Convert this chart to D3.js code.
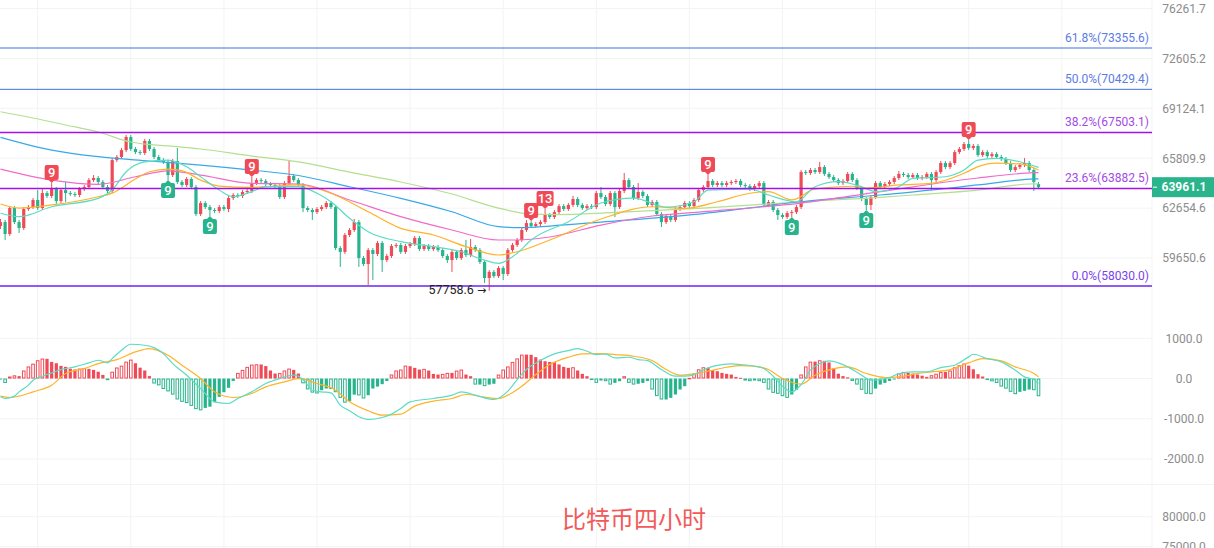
<!DOCTYPE html>
<html>
<head>
<meta charset="utf-8">
<title>比特币四小时</title>
<script src="https://d3js.org/d3.v7.min.js"></script>
<style>
  html, body { margin: 0; padding: 0; background: #fff; }
  svg { display: block; font-family: Roboto, "Noto Sans", sans-serif; }
</style>
</head>
<body>
<svg width="1214" height="548"></svg>
<script>
// 4h candles
const candleOpen = [61560,61800,61080,62660,61800,61440,62600,62720,63160,62660,
  63590,63410,63850,63090,63780,63590,63530,63470,63850,63970,
  64410,64540,64290,63970,63720,65690,65890,66340,67200,66410,
  66210,66150,66940,66410,65890,65690,65570,64730,65630,64290,
  64100,64480,63970,62290,62970,62720,62540,62480,62720,62600,
  63280,63470,63410,63660,63720,64220,64410,64350,64160,64100,
  64030,63340,64220,64670,64410,64100,62660,62540,62410,62600,
  62720,62970,62720,60240,60010,61020,61320,61800,59650,59300,
  60120,59890,60540,59530,59770,60360,60420,60010,60360,60480,
  60840,60180,60360,60180,60300,60120,59770,59530,60010,59650,
  60120,59830,60300,60120,59420,58490,58840,58600,59070,58720,
  60120,60420,60720,61320,61740,61560,61680,61800,62230,62110,
  62410,62780,62600,62850,63220,62850,62660,62780,62720,63590,
  63340,62910,63590,62720,63720,64410,63970,63280,63660,63410,
  62850,63030,62290,61800,62170,61930,62600,62720,62970,62780,
  63160,63780,63970,64350,64100,64220,64100,64220,64290,64350,
  64100,64030,63850,64030,64220,62850,63030,62540,62230,62110,
  62350,62410,62720,64920,64860,65050,64920,65240,64800,64600,
  64410,64220,64350,64800,64410,63910,63220,62850,63340,64220,
  63970,64160,64290,64540,64800,64730,64600,64730,64540,64600,
  64800,64410,64920,65500,65240,65500,66210,66410,66740,66480,
  66610,66020,66210,65950,66080,65890,65760,65500,65050,65240,
  65370,65500,65050,64160];
const candleClose = [61800,61080,62660,61800,61440,62600,62720,63160,62660,63590,
  63410,63850,63090,63780,63590,63530,63470,63850,63970,64410,
  64540,64290,63970,63720,65690,65890,66340,67200,66410,66210,
  66150,66940,66410,65890,65690,65570,64730,65630,64290,64100,
  64480,63970,62290,62970,62720,62540,62480,62720,62600,63280,
  63470,63410,63660,63720,64220,64410,64350,64160,64100,64030,
  63340,64220,64670,64410,64100,62660,62540,62410,62600,62720,
  62970,62720,60240,60010,61020,61320,61800,59650,59300,60120,
  59890,60540,59530,59770,60360,60420,60010,60360,60480,60840,
  60180,60360,60180,60300,60120,59770,59530,60010,59650,60120,
  59830,60300,60120,59420,58490,58840,58600,59070,58720,60120,
  60420,60720,61320,61740,61560,61680,61800,62230,62110,62410,
  62780,62600,62850,63220,62850,62660,62780,62720,63590,63340,
  62910,63590,62720,63720,64410,63970,63280,63660,63410,62850,
  63030,62290,61800,62170,61930,62600,62720,62970,62780,63160,
  63780,63970,64350,64100,64220,64100,64220,64290,64350,64100,
  64030,63850,64030,64220,62850,63030,62540,62230,62110,62350,
  62410,62720,64920,64860,65050,64920,65240,64800,64600,64410,
  64220,64350,64800,64410,63910,63220,62850,63340,64220,63970,
  64160,64290,64540,64800,64730,64600,64730,64540,64600,64800,
  64410,64920,65500,65240,65500,66210,66410,66740,66480,66610,
  66020,66210,65950,66080,65890,65760,65500,65050,65240,65370,
  65500,65050,64290,63961.1];
const candleHigh = [61990,61930,62780,62780,61930,62720,62850,63280,63780,63850,
  63720,64220,63970,63910,64290,63720,63660,63970,64100,64540,
  64730,64670,64410,64100,65820,66020,66480,67330,67330,66540,
  66340,67070,67070,66540,66020,65820,65690,65760,66480,64410,
  64600,64600,64100,63090,63090,62850,62660,62850,62850,63410,
  63590,63590,63780,63850,64600,64540,64540,64480,64290,64220,
  64160,64350,65630,64800,64540,64220,62780,62660,62720,62850,
  63090,63090,62850,60360,61140,61440,61990,61930,59770,60240,
  60240,60660,60660,59890,60480,60540,60540,60480,60600,60960,
  60960,60480,60480,60420,60420,60240,59890,60120,60120,60240,
  60720,60780,60420,60240,59530,58950,58950,59180,59180,60240,
  60540,60840,61440,61930,61860,61800,61930,62600,62350,62540,
  62910,62910,62970,63410,63340,62970,62910,62910,63720,63970,
  63470,63720,63720,63850,64860,64540,64100,64220,63780,63530,
  63160,63160,62410,62290,62290,62720,62850,63090,63090,63280,
  63910,64100,64730,64480,64350,64350,64350,64410,64480,64480,
  64220,64160,64160,64350,64350,63160,63160,62660,62350,62480,
  62540,62850,65050,65050,65180,65180,65570,65370,64920,64730,
  64540,64480,64920,64920,64540,64030,63340,63470,64350,64350,
  64290,64410,64670,64990,64920,64860,64860,64860,64730,64920,
  64920,65050,65630,65630,65630,66340,66540,66870,67000,66740,
  66740,66340,66340,66210,66210,66020,65890,65630,65370,65500,
  65820,65630,65180,64290];
const candleLow = [61380,60720,60960,61680,61140,61320,62480,62600,62540,62540,
  63280,63280,62910,62970,63030,63410,63340,63340,63720,63850,
  64290,64160,63850,63590,63590,65570,65760,66210,66280,66080,
  66020,66020,66280,65760,65570,65440,64410,64600,64160,63970,
  63970,63850,62170,62170,62600,62170,62350,62350,62480,62410,
  63160,63280,63280,63530,63590,64100,64220,64030,63970,63910,
  63220,63220,64100,64290,63970,62410,62410,61930,62290,62480,
  62600,62600,60120,59130,59890,60900,61200,59130,59180,58090,
  58370,59770,58840,59420,59650,60240,59890,59890,60240,60360,
  60060,60060,60060,60060,60010,59650,59360,58840,59530,59530,
  59710,59710,60010,59300,58200,57758.6,58490,58490,58370,58600,
  60010,60300,60600,61200,61440,61440,61560,61680,61990,61990,
  62290,62480,62480,62720,62720,62540,62540,62600,62600,63220,
  62780,62780,62110,62600,63590,63850,63160,63160,63280,62720,
  62720,62170,61500,61680,61800,61800,62480,62600,62660,62660,
  63030,63660,63850,63970,63970,63970,63970,64100,64160,63970,
  63910,63720,63720,63910,62720,62720,62410,61930,61990,61990,
  62110,62290,62600,64730,64730,64800,64800,64670,64480,64290,
  64100,64100,64220,64290,63780,63090,62540,62540,63220,63850,
  63850,64030,64160,64410,64600,64480,64480,64410,64410,64480,
  63780,64290,64800,65110,65110,65370,66080,66280,66340,66340,
  65890,65890,65820,65820,65760,65630,65370,64920,64920,65110,
  65240,64920,63720,63850];

// moving averages, sampled as [candle index, price]
const maLong = [[0,68890],[7,68470],[14,68000],[21,67530],[28,66870],[36,66610],[43,66410],[54,65950],[64,65570],[75,64920],[86,64290],[97,63530],[107,62660],[114,62290],[120,62260],[129,62350],[150,62640],[172,63050],[189,63320],[196,63470],[210,63780],[221,64160],[223,64170]];
const maBlue = [[0,67180],[11,66340],[21,65910],[32,65630],[43,65370],[54,65050],[64,64700],[75,63990],[86,63260],[97,62430],[107,61520],[112,61460],[118,61560],[129,61800],[150,62290],[172,63050],[189,63470],[210,64100],[222,64480],[223,64490]];
const maPink = [[0,65110],[11,64410],[21,64140],[29,64620],[36,65000],[43,64730],[54,64200],[64,64160],[75,63160],[86,62130],[97,61320],[107,60720],[111,60720],[118,60900],[129,61620],[140,62170],[150,62410],[172,62970],[189,63680],[210,64540],[222,64880],[223,64890]];
const maOrange = [[0,62910],[4,62660],[11,62850],[21,63360],[24,63590],[29,64480],[32,64940],[36,65110],[39,65010],[43,64410],[47,64030],[54,63950],[64,64100],[71,63580],[79,62430],[86,61420],[93,61020],[100,60320],[107,59830],[111,60020],[118,60720],[129,61990],[140,62740],[147,62640],[154,63050],[161,63580],[165,63680],[170,63160],[175,63850],[183,64020],[186,63910],[193,64100],[200,64200],[207,64840],[210,65270],[214,65490],[219,65440],[223,65050]];
const maTeal = [[0,62340],[4,62130],[11,62740],[21,63260],[24,63780],[27,64940],[31,65580],[36,65690],[40,65260],[43,64620],[47,63780],[50,63360],[54,63680],[57,63990],[64,63990],[68,63580],[71,63050],[75,62030],[79,61220],[86,60620],[93,60320],[99,60020],[104,59530],[107,59340],[111,59930],[114,60720],[122,61820],[129,62970],[136,63280],[143,62720],[149,63050],[152,63780],[161,63830],[165,63470],[171,63050],[175,63990],[180,64310],[185,63990],[188,63680],[193,63990],[196,64520],[203,64620],[207,65050],[210,65690],[214,65800],[219,65580],[223,65220]];

// MACD
const macdHist = [-25,-110,50,80,60,200,300,370,455,496,
  490,413,380,315,290,245,225,248,262,240,
  215,170,90,-41,170,275,320,420,470,380,
  270,200,60,-124,-170,-260,-320,-400,-520,-579,
  -610,-680,-760,-790,-730,-700,-590,-455,-340,-230,
  -60,140,215,290,347,355,350,310,200,124,
  135,200,248,215,124,-120,-270,-350,-372,-290,
  -248,-260,-340,-480,-600,-560,-400,-420,-496,-414,
  -248,-200,-140,-60,100,200,223,322,306,265,
  223,240,198,116,99,116,140,140,198,223,
  99,58,-150,-150,-190,-150,-130,99,223,300,
  413,500,595,595,590,530,471,430,413,413,
  350,290,265,281,200,116,58,-25,-108,-50,
  -66,-150,-108,-66,58,-108,-150,-130,-108,-60,
  -273,-438,-521,-521,-480,-397,-273,-190,17,120,
  230,281,265,210,182,140,116,99,40,17,
  -50,-66,-50,-66,-108,-273,-356,-380,-438,-480,
  -397,-280,100,300,420,420,455,440,400,250,
  120,60,30,-60,-150,-280,-380,-389,-250,-150,
  -108,-60,-25,130,165,140,124,100,70,41,
  83,120,165,165,200,280,331,372,320,230,
  108,50,-30,-70,-110,-200,-250,-330,-389,-331,
  -306,-273,-290,-440];
const macdDif = [[0,-455],[1,-496],[3,-438],[4,-331],[6,-165],[7,-41],[9,58],[11,140],[13,223],[16,290],[19,389],[21,455],[23,389],[24,496],[26,703],[28,852],[31,827],[33,769],[35,620],[37,372],[40,83],[43,-248],[46,-579],[49,-620],[51,-496],[54,-331],[57,-124],[60,0],[63,83],[65,-25],[67,-290],[69,-331],[71,-356],[73,-662],[75,-802],[77,-951],[79,-1017],[82,-968],[84,-885],[86,-744],[88,-579],[93,-496],[97,-413],[99,-331],[102,-413],[106,-521],[109,-314],[111,-25],[113,223],[116,447],[119,612],[122,695],[124,744],[126,678],[128,595],[130,612],[132,513],[135,529],[137,471],[139,447],[142,223],[145,58],[147,58],[149,99],[152,265],[155,347],[157,364],[159,347],[162,306],[164,248],[166,58],[168,-190],[170,-331],[172,-150],[174,207],[176,372],[178,438],[180,389],[182,290],[185,83],[187,-41],[189,-25],[191,25],[193,124],[196,165],[199,165],[202,273],[205,331],[208,538],[209,604],[212,496],[215,413],[218,207],[220,41],[222,-25],[223,-124]];
const macdDea = [[0,-438],[2,-471],[4,-438],[7,-331],[11,-165],[14,124],[18,248],[21,372],[25,471],[29,662],[32,744],[36,579],[39,331],[43,0],[46,-331],[50,-471],[54,-372],[57,-207],[61,-83],[64,0],[68,-124],[72,-290],[75,-579],[79,-802],[82,-910],[86,-885],[89,-686],[93,-562],[97,-496],[100,-397],[104,-463],[107,-496],[109,-413],[112,-190],[115,99],[118,347],[122,529],[125,612],[129,620],[132,595],[136,554],[140,447],[143,223],[146,83],[149,116],[152,182],[156,281],[159,322],[162,306],[165,223],[168,0],[172,-140],[175,83],[179,248],[182,290],[186,124],[190,25],[193,41],[197,124],[200,165],[204,223],[208,389],[211,496],[215,438],[218,290],[222,124],[223,41]];

// TD sequential marks
const tdIndex = [11, 36, 45, 54, 114, 117, 152, 170, 186, 208];
const tdText  = ["9","9","9","9","9","13","9","9","9","9"];
const tdSide  = ["up","down","down","up","up","up","up","down","down","up"];

// fibonacci levels
const fibLabels = ["61.8%", "50.0%", "38.2%", "23.6%", "0.0%"];
const fibValues = [73355.6, 70429.4, 67503.1, 63882.5, 58030.0];

const priceTicks = [76261.7, 72605.2, 69124.1, 65809.9, 62654.6, 59650.6];
const macdTicks = [1000, 0, -1000, -2000];
const lowerTicks = [80000, 75000];
const lastPrice = 63961.1;
const lowestPrice = 57758.6, lowestIndex = 105;

const svg = d3.select("svg");
const plotRight = 1152;
const up = "#ee4b57", down = "#27b38c";

const x = d3.scaleLinear().domain([0, 223]).range([0.46, 1038.5]);
const y = d3.scaleLog().domain([58030, 73355.6]).range([286, 48]);
const yMacd = d3.scaleLinear().domain([-2000, 1000]).range([459, 338.3]);
const yLower = d3.scaleLinear().domain([75000, 80000]).range([546.7, 516.7]);

// grid
const grid = svg.append("g").attr("stroke", "#f3f3f3").attr("stroke-width", 1);
d3.range(8, 229, 20).forEach(i => {
  grid.append("line").attr("x1", x(i)).attr("x2", x(i)).attr("y1", 0).attr("y2", 548);
});
grid.append("line").attr("x1", plotRight).attr("x2", plotRight).attr("y1", 0).attr("y2", 548);
priceTicks.forEach(v => grid.append("line").attr("x1", 0).attr("x2", plotRight).attr("y1", y(v)).attr("y2", y(v)));
macdTicks.forEach(v => grid.append("line").attr("x1", 0).attr("x2", plotRight).attr("y1", yMacd(v)).attr("y2", yMacd(v)));
lowerTicks.forEach(v => grid.append("line").attr("x1", 0).attr("x2", plotRight).attr("y1", yLower(v)).attr("y2", yLower(v)));
grid.append("line").attr("x1", 0).attr("x2", 1214).attr("y1", 484.5).attr("y2", 484.5);

// right axes
function rightAxis(scale, values) {
  const g = svg.append("g")
    .attr("transform", `translate(${plotRight},0)`)
    .call(d3.axisRight(scale).tickValues(values).tickSize(0).tickFormat(d => d.toFixed(1)));
  g.select(".domain").remove();
  g.selectAll("text")
    .attr("x", 32)
    .attr("text-anchor", "middle")
    .attr("fill", "#8c8c8c")
    .style("font-size", "12px")
    .style("font-family", "Roboto");
}
rightAxis(y, priceTicks);
rightAxis(yMacd, macdTicks);
rightAxis(yLower, lowerTicks);

// candles
const candles = svg.append("g");
candleClose.forEach((c, i) => {
  const o = candleOpen[i];
  const col = c >= o ? up : down;
  candles.append("line")
    .attr("x1", x(i)).attr("x2", x(i))
    .attr("y1", y(candleHigh[i])).attr("y2", y(candleLow[i]))
    .attr("stroke", col).attr("stroke-width", 1);
  const top = Math.min(y(o), y(c));
  candles.append("rect")
    .attr("x", x(i) - 1.6).attr("width", 3.2)
    .attr("y", top).attr("height", Math.max(1, Math.abs(y(o) - y(c))))
    .attr("fill", col);
});

// moving averages
const maLine = d3.line().x(d => x(d[0])).y(d => y(d[1])).curve(d3.curveMonotoneX);
[[maLong, "#b4df8f"], [maBlue, "#38a9e8"], [maPink, "#f06cc8"], [maOrange, "#ffb327"], [maTeal, "#5cdcc3"]]
  .forEach(([pts, col]) => {
    svg.append("path").attr("d", maLine(pts)).attr("fill", "none")
      .attr("stroke", col).attr("stroke-width", 1.2);
  });

// fib levels
const fibLine = ["#3f70e3", "#3f70e3", "#a50fe8", "#a50fe8", "#6a25f2"];
const fibText = ["#5b7be6", "#5b7be6", "#a24ae6", "#a24ae6", "#7843ef"];
fibValues.forEach((v, k) => {
  svg.append("line").attr("x1", 0).attr("x2", plotRight)
    .attr("y1", y(v)).attr("y2", y(v))
    .attr("stroke", fibLine[k]).attr("stroke-width", k < 2 ? 1 : 1.5);
  svg.append("text").attr("x", 1149).attr("y", y(v) - 6)
    .attr("text-anchor", "end").attr("fill", fibText[k])
    .style("font-size", "12px")
    .text(`${fibLabels[k]}(${v.toFixed(1)})`);
});

// TD marks
tdIndex.forEach((i, k) => {
  const cx = x(i), w = tdText[k].length > 1 ? 17 : 14, h = 15;
  const col = tdSide[k] === "up" ? up : down;
  const g = svg.append("g");
  let top, tri;
  if (tdSide[k] === "up") {
    top = y(candleHigh[i]) - 3 - h;
    tri = [[cx - 3, top + h], [cx + 3, top + h], [cx, top + h + 3]];
  } else {
    top = y(candleLow[i]) + 3;
    tri = [[cx - 3, top], [cx + 3, top], [cx, top - 3]];
  }
  g.append("rect").attr("x", cx - w / 2).attr("y", top).attr("width", w).attr("height", h)
    .attr("rx", 2).attr("fill", col);
  g.append("path").attr("d", d3.line()(tri) + "Z").attr("fill", col);
  g.append("text").attr("x", cx).attr("y", top + h / 2).attr("dy", "0.36em")
    .attr("text-anchor", "middle").attr("fill", "#fff")
    .style("font-size", "13px").style("font-weight", "500")
    .text(tdText[k]);
});

// lowest price note
const lowNote = svg.append("text")
  .attr("x", x(lowestIndex) - 3).attr("y", y(lowestPrice) + 3)
  .attr("text-anchor", "end").attr("fill", "#222")
  .style("font-size", "12.5px");
lowNote.append("tspan").text(lowestPrice.toFixed(1) + " ");
lowNote.append("tspan").style("font-family", "'DejaVu Sans'").style("font-size", "11px").text("→");

// last price tag
const ly = y(lastPrice);
svg.append("rect").attr("x", plotRight).attr("y", ly - 10).attr("width", 62).attr("height", 20).attr("fill", "#29b48c");
svg.append("line").attr("x1", plotRight + 1).attr("x2", plotRight + 5).attr("y1", ly).attr("y2", ly).attr("stroke", "#fff");
svg.append("text").attr("x", 1184).attr("y", ly).attr("dy", "0.35em")
  .attr("text-anchor", "middle").attr("fill", "#fff")
  .style("font-size", "12px").style("font-weight", "bold")
  .text(lastPrice.toFixed(1));

// MACD histogram
const bars = svg.append("g");
macdHist.forEach((v, i) => {
  const prev = i > 0 ? macdHist[i - 1] : v;
  const col = v >= 0 ? up : down;
  const hollow = v >= 0 ? v > prev : v < prev;
  const y0 = yMacd(0), y1 = yMacd(v);
  const top = Math.min(y0, y1), hgt = Math.max(1, Math.abs(y1 - y0));
  if (hollow) {
    bars.append("rect").attr("x", x(i) - 1.3).attr("width", 2.6)
      .attr("y", top + 0.5).attr("height", Math.max(0.5, hgt - 1))
      .attr("fill", "#fff").attr("stroke", col).attr("stroke-width", 1);
  } else {
    bars.append("rect").attr("x", x(i) - 1.6).attr("width", 3.2)
      .attr("y", top).attr("height", hgt).attr("fill", col);
  }
});
const macdLine = d3.line().x(d => x(d[0])).y(d => yMacd(d[1])).curve(d3.curveMonotoneX);
svg.append("path").attr("d", macdLine(macdDea)).attr("fill", "none").attr("stroke", "#ffb327").attr("stroke-width", 1.2);
svg.append("path").attr("d", macdLine(macdDif)).attr("fill", "none").attr("stroke", "#5cdcc3").attr("stroke-width", 1.2);

// caption
svg.append("text")
  .attr("x", 634).attr("y", 528)
  .attr("text-anchor", "middle")
  .attr("fill", "#f25a5a")
  .style("font-family", "'Noto Sans CJK SC', sans-serif")
  .style("font-size", "24px")
  .text("比特币四小时");
</script>
</body>
</html>
